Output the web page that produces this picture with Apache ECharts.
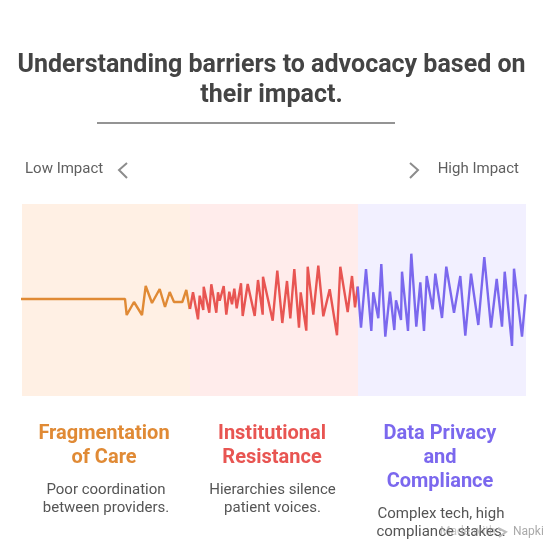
<!DOCTYPE html>
<html>
<head>
<meta charset="utf-8">
<title>Barriers to advocacy</title>
<style>
  html, body { margin: 0; padding: 0; background: #fff; overflow: hidden; }
  #main { width: 543px; height: 559px; }
</style>
<script src="https://cdn.jsdelivr.net/npm/echarts@6/dist/echarts.min.js"></script>
</head>
<body>
<div id="main"></div>
<script>
// position along the impact scale, amplitude
var careX = [-1, 103, 104.7, 112, 120, 123.7, 130, 137.7, 143, 147.7, 152, 160.3, 164.3, 167.7];
var careY = [0, 0, -16, -3, -16, 13, -4, 10, -8, 7, -3, -3, 9, -10];

var resistX = [168, 171, 176, 177.7, 181.3, 181.7, 187.3, 189.3, 194.3, 196, 197.7, 201.7, 204.3, 207.3, 210, 212.3, 214.7, 219, 220.7, 225.7, 232.7, 236, 240.7, 241, 250.7, 255.3, 260.3, 265, 268.3, 272.3, 277, 278.7, 284.3, 285.7, 291.3, 296.3, 301.3, 307.7, 315, 318.3, 325.7, 330, 333, 335.7];
var resistY = [-10, 6.7, -20.3, 3.3, -11, 12.3, -13.7, 14.7, -13.7, 6.7, -1.7, 13, -15.7, 7.3, -5.3, 10.3, -9.3, 15.7, -17, 15, -17, 19, -15.7, 22.3, -21.7, 28.3, -24, 18, -19.3, 30, -28.7, 6.7, -31.7, 32.3, -15.7, 33.3, -17.3, 9.7, -36.3, 32.3, -13, 23, -8.3, 12.3];

var privacyX = [335.7, 339, 344, 349.3, 351.3, 356.3, 359.3, 363.3, 368, 372.3, 374, 379, 380, 386, 389.3, 394.3, 398.3, 402, 404.7, 410.7, 413.3, 420, 424.3, 432, 438.3, 443.3, 449, 456.3, 462.3, 469, 474.7, 480, 482.7, 490, 492, 500, 503.7];
var privacyY = [12.3, -28.7, 30, -32, 6.7, -19.3, 35, -37.7, 7.3, -31, -1.3, -21, 27.3, -32, 45.3, -27.7, 16.7, -32, 23, -10.3, 25.3, -19, 32.3, -13.7, 23, -36.7, 25.3, -26, 42, -28.7, 20, -27.7, 27.3, -47, 30.3, -37.7, 4.7];

var bandEdges = [0, 168, 336, 504];
var bandColors = ['#FFF0E4', '#FFECEB', '#F2F0FF'];
var lineColors = ['#E08A35', '#E85552', '#7B68EE'];

var titleLines = ['Understanding barriers to advocacy based on', 'their impact.'];
var lowLabel = 'Low Impact';
var highLabel = 'High Impact';
var headings = [
    ['Fragmentation', 'of Care'],
    ['Institutional', 'Resistance'],
    ['Data Privacy', 'and', 'Compliance']
];
var bodies = [
    ['Poor coordination', 'between providers.'],
    ['Hierarchies silence', 'patient voices.'],
    ['Complex tech, high', 'compliance stakes.']
];
var headingCenters = [104, 272, 440];
var bodyCenters = [106, 272.5, 441];

function zip(xs, ys) {
    return xs.map(function (x, i) { return [x, ys[i]]; });
}

function label(text, x, y, size, weight, color, align) {
    return {
        type: 'text',
        x: x,
        y: y,
        silent: true,
        style: {
            text: text,
            fill: color,
            font: weight + ' ' + size + 'px Roboto',
            textAlign: align,
            textVerticalAlign: 'middle'
        }
    };
}

function chevron(points) {
    return {
        type: 'polyline',
        silent: true,
        shape: { points: points },
        style: { stroke: '#8c8c8c', lineWidth: 2, fill: null }
    };
}

var graphics = [];

titleLines.forEach(function (t, i) {
    graphics.push(label(t, 271.5, 66 + i * 30, 25, 'bold', '#444444', 'center'));
});
graphics.push({
    type: 'line',
    silent: true,
    shape: { x1: 97, y1: 123, x2: 395, y2: 123 },
    style: { stroke: '#949494', lineWidth: 2 }
});
graphics.push(label(lowLabel, 25, 169, 15, 'normal', '#5f5f5f', 'left'));
graphics.push(label(highLabel, 519, 169, 15, 'normal', '#5f5f5f', 'right'));
graphics.push(chevron([[127, 163], [119, 170], [127, 178]]));
graphics.push(chevron([[410, 163], [418, 170], [410, 178]]));

headings.forEach(function (lines, k) {
    lines.forEach(function (t, i) {
        graphics.push(label(t, headingCenters[k], 434 + i * 24, 20, 'bold', lineColors[k], 'center'));
    });
    bodies[k].forEach(function (t, i) {
        graphics.push(label(t, bodyCenters[k], 433 + lines.length * 24 + 9 + i * 18.5, 15, 'normal', '#555555', 'center'));
    });
});

// faint watermark, runs off the right edge like the original
graphics.push(label('Made with', 440, 532, 12, 'normal', 'rgba(150,150,150,0.55)', 'left'));
graphics.push({
    type: 'polyline',
    silent: true,
    shape: { points: [[498, 528], [506, 532], [499, 537]] },
    style: { stroke: '#bdbdbd', lineWidth: 2, fill: null }
});
graphics.push(label('Napkin', 513, 532, 12, 'normal', '#aaaaaa', 'left'));

var series = [zip(careX, careY), zip(resistX, resistY), zip(privacyX, privacyY)].map(function (d, i) {
    return {
        type: 'line',
        data: d,
        symbol: 'none',
        clip: false,
        silent: true,
        lineStyle: { color: lineColors[i], width: 2.4 },
        markArea: {
            silent: true,
            itemStyle: { color: bandColors[i], opacity: 1 },
            data: [[{ xAxis: bandEdges[i], yAxis: -97 }, { xAxis: bandEdges[i + 1], yAxis: 95 }]]
        }
    };
});

var chart = echarts.init(document.getElementById('main'));
chart.setOption({
    animation: false,
    backgroundColor: '#ffffff',
    grid: { left: 22, top: 204, width: 504, height: 192 },
    xAxis: { type: 'value', min: 0, max: 504, show: false },
    yAxis: { type: 'value', min: -97, max: 95, show: false },
    series: series,
    graphic: graphics
});
</script>
</body>
</html>
